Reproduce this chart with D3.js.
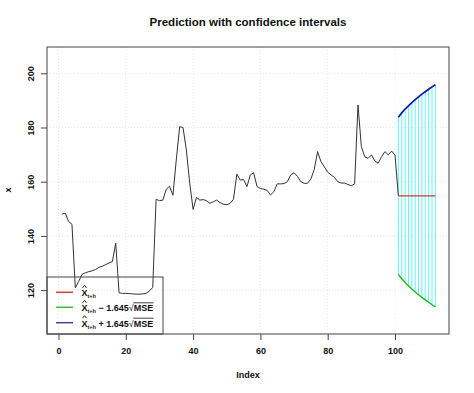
<!DOCTYPE html>
<html>
<head>
<meta charset="utf-8">
<script src="https://cdn.jsdelivr.net/npm/d3@7"></script>
<style>
  body { margin: 0; background: #fff; }
  text { font-family: "Liberation Sans", Arial, sans-serif; font-weight: bold; fill: #111; }
</style>
</head>
<body>
<div id="chart"></div>
<script>
// observed series, index 1..100, plus first forecast point
var series = [148.0, 148.4, 145.3, 144.3, 120.8, 123.2, 125.8, 126.4, 126.8, 127.1,
              127.6, 128.4, 128.8, 129.4, 130.0, 130.5, 137.3, 119.0, 118.8, 118.8,
              118.7, 118.6, 118.5, 118.5, 118.6, 118.8, 119.6, 121.0, 153.5, 153.0,
              153.2, 157.2, 158.3, 155.0, 168.0, 180.3, 180.0, 171.7, 159.4, 149.8,
              154.2, 153.2, 153.4, 153.0, 152.0, 152.6, 153.2, 152.3, 151.7, 151.5,
              152.0, 153.5, 162.8, 160.6, 160.8, 158.2, 162.5, 163.3, 158.2, 157.5,
              157.2, 156.8, 155.1, 156.3, 159.2, 159.2, 159.3, 160.0, 162.5, 163.3,
              162.0, 160.0, 159.4, 159.4, 161.0, 164.5, 171.1, 167.4, 165.5, 163.5,
              162.5, 161.6, 160.0, 159.5, 159.5, 159.0, 158.5, 159.2, 188.3, 173.0,
              169.2, 168.6, 169.9, 167.7, 166.8, 169.2, 171.1, 169.9, 171.3, 169.9,
              154.8];
var horizon = [101, 102, 103, 104, 105, 106, 107, 108, 109, 110, 111, 112];
var predMean = [154.8, 154.8, 154.8, 154.8, 154.8, 154.8, 154.8, 154.8, 154.8, 154.8, 154.8, 154.8];
var predUpper = [183.8, 185.4, 186.8, 188.0, 189.2, 190.3, 191.3, 192.3, 193.2, 194.1, 195.0, 195.8];
var predLower = [125.8, 124.2, 122.8, 121.6, 120.4, 119.3, 118.3, 117.3, 116.4, 115.5, 114.6, 113.8];
var xTicks = [0, 20, 40, 60, 80, 100];
var yTicks = [120, 140, 160, 180, 200];

function init(){
    var w = 474, h = 393;
    var pL = 47, pR = 449, pT = 47, pB = 334;

    var svg = d3.select("#chart").append("svg").attr("width", w).attr("height", h);

    var x = d3.scaleLinear().domain([-3.42, 116.05]).range([pL, pR]);
    var y = d3.scaleLinear().domain([103.8, 209.7]).range([pB, pT]);

    // faint grid
    svg.append("g").selectAll("line").data(xTicks).enter().append("line")
       .attr("x1", function(d){ return x(d); }).attr("x2", function(d){ return x(d); })
       .attr("y1", pT).attr("y2", pB)
       .attr("stroke", "#e6e6e6").attr("stroke-dasharray", "1,2");
    svg.append("g").selectAll("line").data(yTicks).enter().append("line")
       .attr("y1", function(d){ return y(d); }).attr("y2", function(d){ return y(d); })
       .attr("x1", pL).attr("x2", pR)
       .attr("stroke", "#e6e6e6").attr("stroke-dasharray", "1,2");

    // cyan interval segments
    svg.append("g").selectAll("line").data(horizon).enter().append("line")
       .attr("x1", function(d){ return x(d); }).attr("x2", function(d){ return x(d); })
       .attr("y1", function(d, i){ return y(predLower[i]); })
       .attr("y2", function(d, i){ return y(predUpper[i]); })
       .attr("stroke", "#66f2f2").attr("stroke-width", 1);

    // observed series
    var line = d3.line().x(function(d, i){ return x(i + 1); }).y(function(d){ return y(d); });
    svg.append("path").datum(series).attr("d", line)
       .attr("fill", "none").attr("stroke", "#333").attr("stroke-width", 1);

    // forecast lines
    var fline = function(vals){
        return d3.line().x(function(d, i){ return x(horizon[i]); }).y(function(d){ return y(d); })(vals);
    };
    svg.append("path").attr("d", fline(predMean)).attr("fill", "none").attr("stroke", "#c83a3a").attr("stroke-width", 1.2);
    svg.append("path").attr("d", fline(predLower)).attr("fill", "none").attr("stroke", "#10c010").attr("stroke-width", 1.4);
    svg.append("path").attr("d", fline(predUpper)).attr("fill", "none").attr("stroke", "#1515a8").attr("stroke-width", 1.7);

    // box
    svg.append("rect").attr("x", pL).attr("y", pT).attr("width", pR - pL).attr("height", pB - pT)
       .attr("fill", "none").attr("stroke", "#444").attr("stroke-width", 1);

    // axes
    var xAxis = svg.append("g").attr("transform", "translate(0," + pB + ")")
       .call(d3.axisBottom(x).tickValues(xTicks).tickSize(6).tickPadding(8));
    xAxis.select(".domain").remove();
    xAxis.selectAll("line").attr("stroke", "#444");
    xAxis.selectAll("text").attr("font-size", 9).attr("font-family", null).attr("fill", "#111");

    var yAxis = svg.append("g").attr("transform", "translate(" + pL + ",0)")
       .call(d3.axisLeft(y).tickValues(yTicks).tickSize(6));
    yAxis.select(".domain").remove();
    yAxis.selectAll("line").attr("stroke", "#444");
    yAxis.selectAll("text")
       .attr("font-size", 9).attr("font-family", null).attr("fill", "#111")
       .attr("x", 0).attr("y", 0).attr("dy", null)
       .attr("text-anchor", "middle")
       .attr("transform", "translate(-13,0) rotate(-90)");

    // titles
    svg.append("text").attr("x", 248).attr("y", 26).attr("text-anchor", "middle")
       .attr("font-size", 11.5).text("Prediction with confidence intervals");
    svg.append("text").attr("x", 248).attr("y", 378).attr("text-anchor", "middle")
       .attr("font-size", 9).text("Index");
    svg.append("text").attr("transform", "translate(11,190) rotate(-90)").attr("text-anchor", "middle")
       .attr("font-size", 9).text("x");

    // legend (transparent box)
    var legTop = 277, legRight = 163;
    svg.append("rect").attr("x", pL).attr("y", legTop).attr("width", legRight - pL).attr("height", pB - legTop)
       .attr("fill", "none").attr("stroke", "#444").attr("stroke-width", 1);

    var legColors = ["#d04040", "#30c030", "#4040b0"];
    var legSigns = [null, "\u2212", "+"];
    var legRows = [292.3, 307.3, 322.7];

    legRows.forEach(function(ry, k){
        svg.append("line").attr("x1", 56).attr("x2", 73).attr("y1", ry).attr("y2", ry)
           .attr("stroke", legColors[k]).attr("stroke-width", 1.5);
        var t = svg.append("text").attr("x", 81.5).attr("y", ry + 4).attr("font-size", 9);
        t.append("tspan").text("X");
        t.append("tspan").attr("font-size", 5.5).attr("dy", 2).text("t+h");
        if (legSigns[k]) {
            t.append("tspan").attr("dy", -2).text(" " + legSigns[k] + " 1.645");
            t.append("tspan").attr("font-weight", "normal").text("\u221A");
            t.append("tspan").text("MSE");
            var node = t.node();
            var n = node.getNumberOfChars();
            var s = node.getStartPositionOfChar(n - 3).x;
            var e = node.getEndPositionOfChar(n - 1).x;
            svg.append("line").attr("x1", s - 0.5).attr("x2", e + 0.5)
               .attr("y1", ry - 4.5).attr("y2", ry - 4.5)
               .attr("stroke", "#111").attr("stroke-width", 0.8);
        }
        // hat over the X
        var xs = t.node().getStartPositionOfChar(0).x;
        var xe = t.node().getEndPositionOfChar(0).x;
        var cx = (xs + xe) / 2;
        svg.append("path")
           .attr("d", "M" + (cx - 2) + "," + (ry - 4.5) + "L" + cx + "," + (ry - 7) + "L" + (cx + 2) + "," + (ry - 4.5))
           .attr("fill", "none").attr("stroke", "#111").attr("stroke-width", 0.9);
    });
}
window.onload = init;
</script>
</body>
</html>
